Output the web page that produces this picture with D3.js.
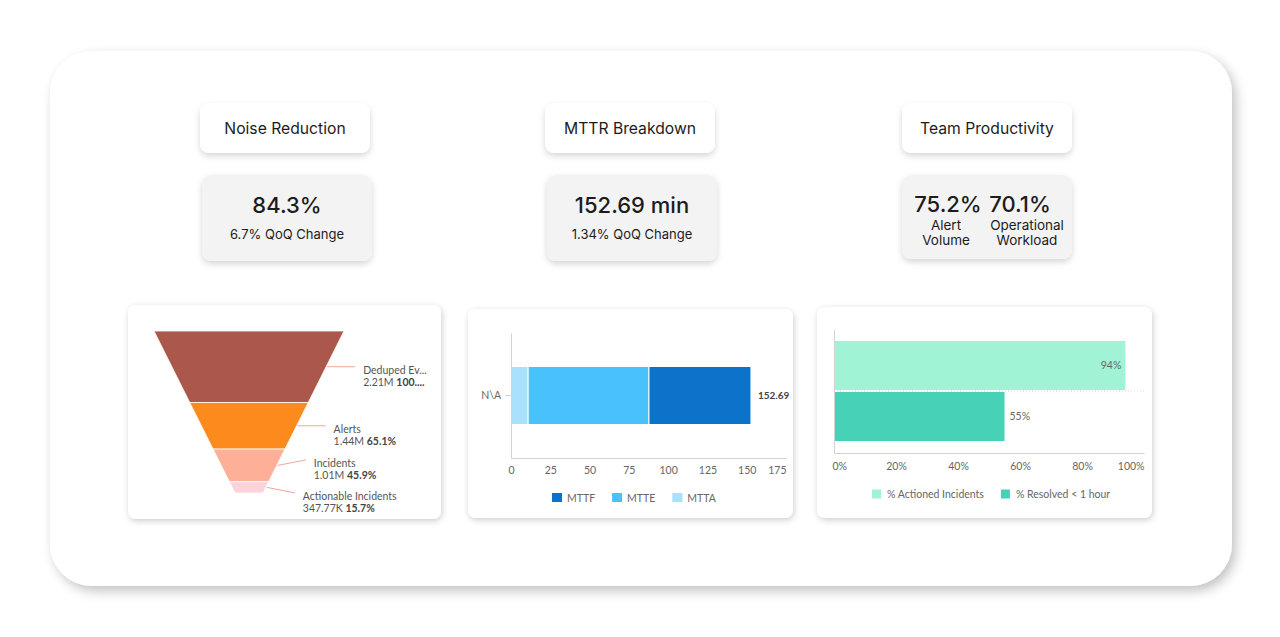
<!DOCTYPE html>
<html>
<head>
<meta charset="utf-8">
<script src="https://cdn.jsdelivr.net/npm/d3@7"></script>
<style>
  html, body { margin: 0; background: #fff; }
  svg { display: block; }
  .kpi text { font-family: Inter, "Noto Sans", sans-serif; fill: #1c1c1c; }
  .chart text { font-family: Lato, "Open Sans", sans-serif; }
</style>
</head>
<body>
<svg id="board" width="1280" height="637"></svg>
<script>
// ---- data ----
const kpiTitles = ["Noise Reduction", "MTTR Breakdown", "Team Productivity"];
const noiseKpi = ["84.3%", "6.7% QoQ Change"];
const mttrKpi = ["152.69 min", "1.34% QoQ Change"];
const teamKpiValues = ["75.2%", "70.1%"];
const teamKpiLabels = [["Alert", "Volume"], ["Operational", "Workload"]];

const funnelStages = ["Deduped Events", "Alerts", "Incidents", "Actionable Incidents"];
const funnelValues = [2210000, 1440000, 1010000, 347770];
const funnelValueText = ["2.21M", "1.44M", "1.01M", "347.77K"];
const funnelPctText = ["100.0%", "65.1%", "45.9%", "15.7%"];

const mttrCategories = ["N\\A"];
const mttrSeries = ["MTTA", "MTTE", "MTTF"];
const mttrValues = [10.9, 76.9, 64.89];
const mttrTotalText = "152.69";
const mttrLegend = ["MTTF", "MTTE", "MTTA"];
const mttrTicks = [0, 25, 50, 75, 100, 125, 150, 175];

const teamSeries = ["% Actioned Incidents", "% Resolved < 1 hour"];
const teamValues = [94, 55];
const teamTicks = [0, 20, 40, 60, 80, 100];

// ---- styles ----
const funnelColors = ["#ac574b", "#fd8a1d", "#fdaf97", "#fdd2db"];
const mttrColors = { MTTA: "#a9e0fb", MTTE: "#49c2fc", MTTF: "#0b73c9" };
const teamColors = ["#a1f3d5", "#47d1b6"];

const svg = d3.select("#board");

// shadows
const defs = svg.append("defs");
function shadow(id, dx, dy, sd, op) {
  defs.append("filter")
    .attr("id", id)
    .attr("x", "-20%").attr("y", "-20%")
    .attr("width", "140%").attr("height", "150%")
    .append("feDropShadow")
      .attr("dx", dx).attr("dy", dy)
      .attr("stdDeviation", sd)
      .attr("flood-color", "#000")
      .attr("flood-opacity", op);
}
shadow("outer", 4, 5, 6, 0.24);
shadow("small", 0, 3, 3, 0.16);
shadow("panel", 1, 2, 3, 0.2);

function card(x, y, w, h, r, fill, filter) {
  svg.append("rect")
    .attr("x", x).attr("y", y)
    .attr("width", w).attr("height", h)
    .attr("rx", r)
    .attr("fill", fill)
    .attr("filter", `url(#${filter})`);
}

// outer board
card(50, 51, 1182, 535, 42, "#fff", "outer");

// ---- KPI cards ----
const titleBoxes = [200, 545, 902];
const statBoxes = [202, 547, 902];
titleBoxes.forEach(x => card(x, 103, 170, 50, 9, "#fff", "small"));
statBoxes.forEach((x, i) => card(x, 175, 170, i === 2 ? 84 : 86, 9, "#f3f3f3", "small"));

const kpi = svg.append("g").attr("class", "kpi");

kpiTitles.forEach((t, i) => {
  kpi.append("text")
    .attr("x", titleBoxes[i] + 85)
    .attr("y", 133.5)
    .attr("text-anchor", "middle")
    .attr("font-size", "15.7px")
    .text(t);
});

[noiseKpi, mttrKpi].forEach((k, i) => {
  kpi.append("text")
    .attr("x", statBoxes[i] + 85).attr("y", 213)
    .attr("text-anchor", "middle")
    .attr("font-size", "22px")
    .attr("font-weight", 500)
    .text(k[0]);
  kpi.append("text")
    .attr("x", statBoxes[i] + 85).attr("y", 239)
    .attr("text-anchor", "middle")
    .attr("font-size", "13px")
    .text(k[1]);
});

const teamValX = [948, 1020];
const teamLblX = [946, 1027];
teamKpiValues.forEach((v, i) => {
  kpi.append("text")
    .attr("x", teamValX[i]).attr("y", 212)
    .attr("text-anchor", "middle")
    .attr("font-size", "22px")
    .attr("font-weight", 500)
    .text(v);
  teamKpiLabels[i].forEach((l, j) => {
    kpi.append("text")
      .attr("x", teamLblX[i]).attr("y", 230 + j * 15)
      .attr("text-anchor", "middle")
      .attr("font-size", "13.5px")
      .text(l);
  });
});

// ---- chart panels ----
const funnelPanel = { x: 128, y: 305, w: 313, h: 214 };
const mttrPanel = { x: 468, y: 309, w: 325, h: 209 };
const teamPanel = { x: 817, y: 307, w: 335, h: 211 };
[funnelPanel, mttrPanel, teamPanel].forEach(p => card(p.x, p.y, p.w, p.h, 8, "#fff", "panel"));

// ---- funnel ----
const fun = svg.append("g").attr("class", "chart");
const total = d3.sum(funnelValues);
const fy = d3.scaleLinear().domain([0, total]).range([331, 493]);
const fw = d3.scaleLinear().domain([0, total]).range([190, 28]);
const fcx = 249;

let cum = 0;
const segs = funnelValues.map((v, i) => {
  const s = { i, c0: cum, c1: cum + v };
  cum += v;
  s.mid = (s.c0 + s.c1) / 2;
  return s;
});

const segLine = d3.line();
fun.selectAll("path.seg")
  .data(segs)
  .enter().append("path")
    .attr("class", "seg")
    .attr("d", d => segLine([
      [fcx - fw(d.c0) / 2, fy(d.c0)],
      [fcx + fw(d.c0) / 2, fy(d.c0)],
      [fcx + fw(d.c1) / 2, fy(d.c1)],
      [fcx - fw(d.c1) / 2, fy(d.c1)]
    ]) + "Z")
    .attr("fill", d => funnelColors[d.i])
    .attr("stroke", "#fff")
    .attr("stroke-width", 0.8);

// label positions with a simple overlap relax
segs.forEach(s => {
  s.edge = fcx + fw(s.mid) / 2;
  s.ly = fy(s.mid) + 3;
});
for (let pass = 0; pass < 10; pass++) {
  for (let i = 1; i < segs.length; i++) {
    const gap = segs[i].ly - segs[i - 1].ly;
    if (gap < 33) {
      const push = (33 - gap) / 2;
      segs[i].ly += push;
      segs[i - 1].ly -= push;
    }
  }
}

const maxRight = funnelPanel.x + funnelPanel.w - 14;
segs.forEach(s => {
  const lx = s.edge + 37;
  fun.append("line")
    .attr("x1", s.edge + 1).attr("y1", fy(s.mid))
    .attr("x2", lx - 8).attr("y2", s.ly - 3)
    .attr("stroke", "#eca89b")
    .attr("stroke-width", 1);

  // first line: stage name, truncated to fit
  const t1 = fun.append("text")
    .attr("x", lx).attr("y", s.ly + 4)
    .attr("font-size", "10.5px")
    .attr("fill", "#555")
    .text(funnelStages[s.i]);
  let name = funnelStages[s.i];
  while (lx + t1.node().getComputedTextLength() > maxRight && name.length > 1) {
    name = name.slice(0, -1);
    t1.text(name.trimEnd() + "...");
  }

  // second line: value + bold percent
  const t2 = fun.append("text")
    .attr("x", lx).attr("y", s.ly + 16)
    .attr("font-size", "10.5px")
    .attr("fill", "#555");
  t2.append("tspan").text(funnelValueText[s.i] + " ");
  const b = t2.append("tspan")
    .attr("font-weight", "bold")
    .attr("fill", "#444")
    .text(funnelPctText[s.i]);
  let pct = funnelPctText[s.i];
  while (lx + t2.node().getComputedTextLength() > maxRight && pct.length > 1) {
    pct = pct.slice(0, -1);
    b.text(pct + "...");
  }
});

// ---- MTTR stacked bar ----
const mt = svg.append("g").attr("class", "chart");
const mx = d3.scaleLinear().domain([0, 175]).range([511, 786]);
const my = d3.scaleBand().domain(mttrCategories).range([333, 458]).padding(0.366);

const mttrRow = { cat: mttrCategories[0] };
mttrSeries.forEach((k, i) => { mttrRow[k] = mttrValues[i]; });
const stacked = d3.stack().keys(mttrSeries)([mttrRow]);

mt.selectAll("rect.bar")
  .data(stacked)
  .enter().append("rect")
    .attr("class", "bar")
    .attr("x", d => mx(d[0][0]))
    .attr("y", d => my(d[0].data.cat))
    .attr("width", d => mx(d[0][1]) - mx(d[0][0]))
    .attr("height", my.bandwidth())
    .attr("fill", d => mttrColors[d.key])
    .attr("stroke", "#fff")
    .attr("stroke-width", 1);

mt.append("text")
  .attr("x", mx(d3.sum(mttrValues)) + 7)
  .attr("y", my(mttrCategories[0]) + my.bandwidth() / 2)
  .attr("dy", "0.35em")
  .attr("font-size", "10px")
  .attr("font-weight", "bold")
  .attr("fill", "#444")
  .text(mttrTotalText);

const mxAxis = mt.append("g")
  .attr("transform", "translate(0,458)")
  .call(d3.axisBottom(mx).tickValues(mttrTicks).tickSize(0).tickSizeOuter(0).tickPadding(9));
const myAxis = mt.append("g")
  .attr("transform", "translate(511,0)")
  .call(d3.axisLeft(my).tickSize(6).tickSizeOuter(0).tickPadding(4));

[mxAxis, myAxis].forEach(a => {
  a.select(".domain").attr("stroke", "#d3d3d3");
  a.selectAll("line").attr("stroke", "#d3d3d3");
  a.selectAll("text")
    .attr("fill", "#666")
    .attr("font-size", "10.5px")
    .attr("font-family", "Lato, sans-serif");
});
mxAxis.selectAll(".tick text")
  .attr("text-anchor", (d, i, n) => i === 0 ? "start" : i === n.length - 1 ? "end" : "middle")
  .attr("dx", (d, i, n) => i === 0 ? -3 : 0);

// legend
let lgx = 552;
mttrLegend.forEach(k => {
  mt.append("rect")
    .attr("x", lgx).attr("y", 493)
    .attr("width", 10).attr("height", 9)
    .attr("fill", mttrColors[k]);
  const t = mt.append("text")
    .attr("x", lgx + 15).attr("y", 498)
    .attr("dy", "0.35em")
    .attr("font-size", "10.5px")
    .attr("fill", "#666")
    .text(k);
  lgx += 15 + t.node().getComputedTextLength() + 17;
});

// ---- Team productivity bars ----
const tp = svg.append("g").attr("class", "chart");
const tx = d3.scaleLinear().domain([0, 100]).range([834, 1144]);
const ty = d3.scaleBand().domain(teamSeries).range([329, 453])
  .paddingInner(0.04).paddingOuter(0.234);

tp.append("line")
  .attr("x1", tx(0)).attr("x2", tx(100))
  .attr("y1", ty(teamSeries[1]) - 1).attr("y2", ty(teamSeries[1]) - 1)
  .attr("stroke", "#ddd")
  .attr("stroke-dasharray", "1,2");

tp.selectAll("rect.bar")
  .data(teamValues)
  .enter().append("rect")
    .attr("class", "bar")
    .attr("x", tx(0))
    .attr("y", (d, i) => ty(teamSeries[i]))
    .attr("width", d => tx(d) - tx(0))
    .attr("height", ty.bandwidth())
    .attr("fill", (d, i) => teamColors[i]);

tp.selectAll("text.val")
  .data(teamValues)
  .enter().append("text")
    .attr("class", "val")
    .attr("x", (d, i) => i === 0 ? tx(d) - 4 : tx(d) + 5)
    .attr("y", (d, i) => ty(teamSeries[i]) + ty.bandwidth() / 2)
    .attr("dy", "0.35em")
    .attr("text-anchor", (d, i) => i === 0 ? "end" : "start")
    .attr("font-size", "10.5px")
    .attr("fill", "#666")
    .text(d => d + "%");

const txAxis = tp.append("g")
  .attr("transform", "translate(0,453)")
  .call(d3.axisBottom(tx).tickValues(teamTicks).tickSize(0).tickSizeOuter(0).tickPadding(10)
    .tickFormat(d => d + "%"));
const tyAxis = tp.append("g")
  .attr("transform", "translate(834,0)")
  .call(d3.axisLeft(ty).tickSize(0).tickSizeOuter(0).tickFormat(""));

[txAxis, tyAxis].forEach(a => {
  a.select(".domain").attr("stroke", "#d3d3d3");
  a.selectAll("text")
    .attr("fill", "#666")
    .attr("font-size", "10.5px")
    .attr("font-family", "Lato, sans-serif");
});
txAxis.selectAll(".tick text")
  .attr("text-anchor", (d, i, n) => i === 0 ? "start" : i === n.length - 1 ? "end" : "middle")
  .attr("dx", (d, i, n) => i === 0 ? -2 : 0);

let tlx = 872;
teamSeries.forEach((k, i) => {
  tp.append("rect")
    .attr("x", tlx).attr("y", 489.5)
    .attr("width", 9).attr("height", 9)
    .attr("fill", teamColors[i]);
  const t = tp.append("text")
    .attr("x", tlx + 15).attr("y", 494)
    .attr("dy", "0.35em")
    .attr("font-size", "10.5px")
    .attr("fill", "#666")
    .text(k);
  tlx += 15 + t.node().getComputedTextLength() + 17;
});
</script>
</body>
</html>
